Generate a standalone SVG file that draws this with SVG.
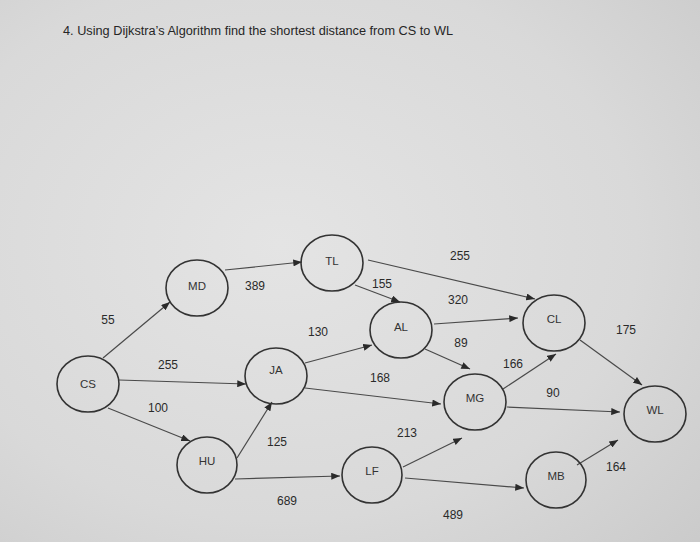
<svg xmlns="http://www.w3.org/2000/svg" width="700" height="542" viewBox="0 0 700 542">
<defs>
<radialGradient id="bg" cx="0.4" cy="0.45" r="0.85">
<stop offset="0" stop-color="#e4e4e4"/>
<stop offset="0.6" stop-color="#d9d9d9"/>
<stop offset="1" stop-color="#c9c9c9"/>
</radialGradient>
<marker id="ah" viewBox="0 0 10 8" refX="10" refY="4" markerWidth="9" markerHeight="7" markerUnits="userSpaceOnUse" orient="auto">
<path d="M0,0 L10,4 L0,8 z" fill="#2a2a2a"/>
</marker>
</defs>
<style>
.n ellipse{fill:none;stroke:#333;stroke-width:1.6}
.n text{font-family:"Liberation Sans",Arial,sans-serif;font-size:11.5px;fill:#333;text-anchor:middle}
#edges line{stroke:#4a4a4a;stroke-width:1.2;marker-end:url(#ah)}
.w{font-family:"Liberation Sans",Arial,sans-serif;font-size:12px;fill:#2a2a2a;text-anchor:middle}
.t{font-family:"Liberation Sans",Arial,sans-serif;font-size:12.5px;fill:#262626}
</style>
<rect width="700" height="542" fill="url(#bg)"/>
<text class="t" x="63" y="35" textLength="390" lengthAdjust="spacingAndGlyphs">4.  Using Dijkstra’s Algorithm find the shortest distance from CS to WL</text>
<g id="edges">
<line x1="103" y1="358" x2="170" y2="302"/>
<line x1="119" y1="380" x2="246" y2="384"/>
<line x1="108" y1="408" x2="190" y2="441"/>
<line x1="225" y1="270" x2="302" y2="262"/>
<line x1="368" y1="260" x2="535" y2="299"/>
<line x1="355" y1="285" x2="400" y2="302"/>
<line x1="305" y1="363" x2="372" y2="345"/>
<line x1="305" y1="388" x2="441" y2="404"/>
<line x1="237" y1="458" x2="272" y2="402"/>
<line x1="235" y1="479" x2="340" y2="476"/>
<line x1="434" y1="324" x2="518" y2="318"/>
<line x1="425" y1="349" x2="470" y2="369"/>
<line x1="503" y1="389" x2="556" y2="354"/>
<line x1="507" y1="407" x2="620" y2="412"/>
<line x1="580" y1="340" x2="642" y2="385"/>
<line x1="403" y1="467" x2="462" y2="438"/>
<line x1="405" y1="478" x2="524" y2="488"/>
<line x1="577" y1="465" x2="618" y2="440"/>
</g>
<g id="labels">
<text class="w" x="108" y="324">55</text>
<text class="w" x="168" y="369">255</text>
<text class="w" x="158" y="412">100</text>
<text class="w" x="255" y="290">389</text>
<text class="w" x="460" y="260">255</text>
<text class="w" x="382" y="288">155</text>
<text class="w" x="318" y="336">130</text>
<text class="w" x="380" y="382">168</text>
<text class="w" x="277" y="446">125</text>
<text class="w" x="287" y="505">689</text>
<text class="w" x="458" y="304">320</text>
<text class="w" x="461" y="347">89</text>
<text class="w" x="513" y="368">166</text>
<text class="w" x="553" y="397">90</text>
<text class="w" x="626" y="334">175</text>
<text class="w" x="407" y="437">213</text>
<text class="w" x="453" y="519">489</text>
<text class="w" x="616" y="471">164</text>
</g>
<g id="CS" class="n"><ellipse cx="88" cy="384" rx="31" ry="28"/><text x="88" y="388">CS</text></g>
<g id="MD" class="n"><ellipse cx="197" cy="288" rx="31" ry="28"/><text x="197" y="290">MD</text></g>
<g id="TL" class="n"><ellipse cx="332" cy="263" rx="31" ry="28"/><text x="332" y="265">TL</text></g>
<g id="JA" class="n"><ellipse cx="276" cy="376" rx="31" ry="28"/><text x="276" y="374">JA</text></g>
<g id="AL" class="n"><ellipse cx="401" cy="330" rx="31" ry="28"/><text x="401" y="331">AL</text></g>
<g id="CL" class="n"><ellipse cx="554" cy="323" rx="31" ry="28"/><text x="554" y="323">CL</text></g>
<g id="MG" class="n"><ellipse cx="475" cy="402" rx="31" ry="28"/><text x="475" y="402">MG</text></g>
<g id="WL" class="n"><ellipse cx="655" cy="414" rx="31" ry="28"/><text x="655" y="414">WL</text></g>
<g id="HU" class="n"><ellipse cx="207" cy="465" rx="30" ry="28"/><text x="207" y="465">HU</text></g>
<g id="LF" class="n"><ellipse cx="372" cy="475" rx="30" ry="28"/><text x="372" y="475">LF</text></g>
<g id="MB" class="n"><ellipse cx="556" cy="480" rx="30" ry="28"/><text x="556" y="480">MB</text></g>
</svg>
